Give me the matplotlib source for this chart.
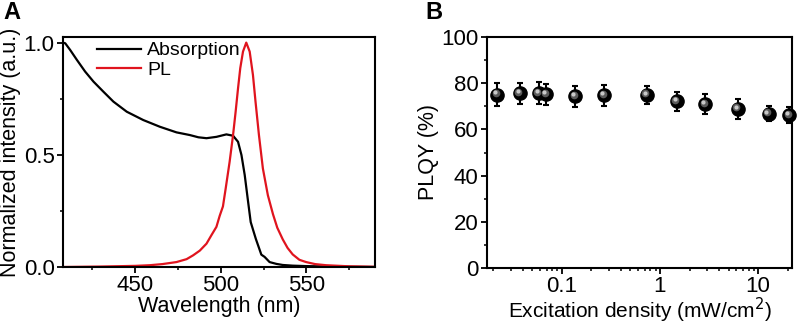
import numpy as np
import matplotlib
matplotlib.use("Agg")
import matplotlib.pyplot as plt
import matplotlib.transforms as mtransforms
from matplotlib.ticker import MultipleLocator, LogLocator, NullFormatter, FixedLocator, FixedFormatter

plt.rcParams['font.family'] = ['Liberation Sans', 'DejaVu Sans']

# panel A: spectra
abs_wl = [408, 409.3, 412.2, 416.1, 420.9, 425.8, 431.6, 437.4, 445.2, 454.8, 464.5,
          474.2, 482, 487, 491.7, 497.5, 503.3, 507.2, 510.1, 512.1, 514, 515.9, 517.5,
          520.5, 523.7, 525.6, 528.5, 532.4, 536.2, 542, 550, 565, 590]
abs_val = [1.0, 0.997, 0.967, 0.923, 0.871, 0.826, 0.781, 0.737, 0.692, 0.655, 0.625,
           0.6, 0.588, 0.578, 0.574, 0.58, 0.591, 0.585, 0.558, 0.499, 0.41, 0.295, 0.2,
           0.125, 0.055, 0.045, 0.022, 0.014, 0.009, 0.006, 0.004, 0.002, 0.0]
pl_wl = [408, 430, 450, 458.7, 466, 474.2, 480.1, 483.9, 487.8, 491.7, 494.6, 497.5,
         499.4, 501.3, 502.9, 505.2, 507.2, 508.7, 510.1, 511.4, 513, 514.9, 516.9,
         518.8, 520.3, 522.3, 524.6, 527.5, 530.5, 533, 536.2, 539, 542, 545.9, 549.8,
         555, 561.4, 575, 590]
pl_val = [0.0, 0.002, 0.005, 0.008, 0.013, 0.022, 0.035, 0.052, 0.073, 0.104, 0.142, 0.179,
          0.228, 0.27, 0.35, 0.469, 0.588, 0.692, 0.796, 0.886, 0.96, 1.0, 0.96,
          0.856, 0.737, 0.588, 0.439, 0.32, 0.235, 0.175, 0.123, 0.085, 0.056, 0.032, 0.022,
          0.013, 0.008, 0.003, 0.001]

# panel B: PLQY vs excitation density
density = [0.022, 0.037, 0.058, 0.069, 0.136, 0.27, 0.73, 1.48, 2.9, 6.2, 12.8, 20.9]
plqy = [75.1, 75.7, 75.8, 75.2, 74.4, 74.7, 75.0, 72.2, 70.9, 68.9, 66.8, 66.2]
plqy_err = [4.9, 4.6, 4.7, 4.5, 4.5, 4.5, 4.0, 4.2, 4.4, 4.4, 3.2, 3.3]

fs_tick = 16
fs_lab = 15
fig = plt.figure(figsize=(8, 3.25), dpi=100)
axA = fig.add_axes([63 / 800, 1 - 267 / 325, 312 / 800, 230 / 325])
axB = fig.add_axes([487 / 800, 1 - 268 / 325, 305 / 800, 231 / 325])

for ax in (axA, axB):
    for s in ax.spines.values():
        s.set_linewidth(1.5)
    ax.tick_params(which='major', direction='out', length=4, width=1.3, labelsize=fs_tick, pad=2)
    ax.tick_params(which='minor', direction='out', length=2.5, width=1.1)

axA.plot(abs_wl, abs_val, color='black', lw=1.6, label='Absorption')
axA.plot(pl_wl, pl_val, color='#e0141e', lw=1.6, label='PL')
axA.set_xlim(408, 590)
axA.set_ylim(0, 1.025)
axA.xaxis.set_major_locator(MultipleLocator(50))
axA.xaxis.set_minor_locator(MultipleLocator(25))
axA.yaxis.set_major_locator(MultipleLocator(0.5))
axA.yaxis.set_minor_locator(MultipleLocator(0.25))
axA.yaxis.set_major_formatter(matplotlib.ticker.FormatStrFormatter('%.1f'))
axA.set_xlabel('Wavelength (nm)', fontsize=15.5, labelpad=0)
axA.set_ylabel('Normalized intensity (a.u.)', fontsize=15.5, labelpad=2)
axA.legend(loc='upper left', bbox_to_anchor=(0.07, 1.03), frameon=False, fontsize=14,
           handlelength=2.3, handletextpad=0.3, labelspacing=0.1, borderaxespad=0.2)

axB.errorbar(density, plqy, yerr=plqy_err, fmt='none', ecolor='black', elinewidth=1.5,
             capsize=2.5, capthick=1.5, zorder=2, clip_on=False)
axB.plot(density, plqy, 'o', color='black', ms=9.5, zorder=3, clip_on=False)
hl = mtransforms.offset_copy(axB.transData, fig=fig, x=-1.0, y=1.0, units='points')
axB.plot(density, plqy, 'o', color='#5a5a5a', ms=5.5, mew=0, transform=hl, zorder=4, clip_on=False)
hl2 = mtransforms.offset_copy(axB.transData, fig=fig, x=-1.5, y=1.5, units='points')
axB.plot(density, plqy, 'o', color='#c8c8c8', ms=3, mew=0, transform=hl2, zorder=5, clip_on=False)
axB.set_xscale('log')
axB.set_xlim(0.0172, 22.2)
axB.set_ylim(0, 100)
axB.xaxis.set_major_locator(FixedLocator([0.1, 1, 10]))
axB.xaxis.set_major_formatter(FixedFormatter(['0.1', '1', '10']))
axB.xaxis.set_minor_locator(LogLocator(base=10, subs=np.arange(2, 10)))
axB.xaxis.set_minor_formatter(NullFormatter())
axB.yaxis.set_major_locator(MultipleLocator(20))
axB.yaxis.set_minor_locator(MultipleLocator(10))
axB.set_xlabel('Excitation density (mW/cm$^2$)', fontsize=fs_lab, labelpad=-1)
axB.set_ylabel('PLQY (%)', fontsize=15.5, labelpad=2)

fig.text(3 / 800, 1 - 1 / 325, 'A', fontsize=17, fontweight='bold', va='top')
fig.text(425 / 800, 1 - 1 / 325, 'B', fontsize=17, fontweight='bold', va='top')

fig.savefig('out.png', dpi=100)
